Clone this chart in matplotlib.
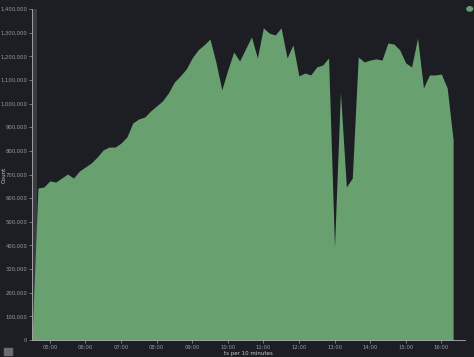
import pandas as pd
import matplotlib
matplotlib.use("Agg")
import matplotlib.pyplot as plt
import matplotlib.dates as mdates
from matplotlib.ticker import FuncFormatter

# counts per 10 minute bucket, starting 04:30
start = "2024-01-01 04:30"
counts = [0, 643000, 647000, 673000, 668000, 685000, 702000, 685000, 715000, 732000,
          749000, 774000, 804000, 816000, 816000, 833000, 859000, 918000, 935000, 943000,
          969000, 990000, 1011000, 1045000, 1091000, 1117000, 1146000, 1193000, 1227000, 1248000,
          1273000, 1176000, 1058000, 1142000, 1218000, 1180000, 1231000, 1282000, 1193000, 1320000,
          1298000, 1290000, 1320000, 1193000, 1248000, 1117000, 1129000, 1121000, 1155000, 1163000,
          1193000, 393000, 1049000, 647000, 685000, 1197000, 1176000, 1184000, 1189000, 1184000,
          1256000, 1252000, 1227000, 1172000, 1155000, 1277000, 1066000, 1121000, 1121000, 1125000,
          1066000, 846000]
times = pd.date_range(start, periods=len(counts), freq="10min")

y_ticks = list(range(0, 1400001, 100000))

bg = "#1d1e23"
green = "#68a070"
tick_col = "#9a9a9e"

fig = plt.figure(figsize=(4.74, 3.57), dpi=100, facecolor=bg)
ax = fig.add_axes([0.0675, 0.0476, 0.9135, 0.9272])
ax.set_facecolor(bg)

# highlighted column at the start
ax.axvspan(times[0], times[0] + pd.Timedelta(minutes=9), color="#3a3b40", lw=0, zorder=0)
ax.fill_between(times, counts, 0, color=green, lw=0, zorder=1)

ax.set_xlim(times[0], times[-1] + pd.Timedelta(minutes=20))
ax.set_ylim(0, 1400000)
ax.set_yticks(y_ticks)
ax.yaxis.set_major_formatter(FuncFormatter(lambda v, p: f"{int(v):,}"))
ax.xaxis.set_major_locator(mdates.HourLocator())
ax.xaxis.set_major_formatter(mdates.DateFormatter("%H:%M"))

for s in ["top", "right"]:
    ax.spines[s].set_visible(False)
for s in ["left", "bottom"]:
    ax.spines[s].set_color("#b0b0b4")
    ax.spines[s].set_linewidth(0.6)
ax.tick_params(colors=tick_col, labelsize=3.8, length=2, width=0.5, pad=1.5)

ax.set_xlabel("ts per 10 minutes", fontsize=4, color="#c8c8cc", labelpad=1)
ax.set_ylabel("Count", fontsize=4, color="#c8c8cc", labelpad=18)
ax.yaxis.set_label_coords(-0.058, 0.5)

# legend dot and small icon
fig.patches.append(plt.Circle((0.991, 0.975), 0.006, transform=fig.transFigure,
                              color=green, figure=fig))
fig.patches.append(plt.Rectangle((0.008, 0.005), 0.018, 0.02, transform=fig.transFigure,
                                 color="#6a6a70", figure=fig))

fig.savefig("out.png", dpi=100, facecolor=bg)
